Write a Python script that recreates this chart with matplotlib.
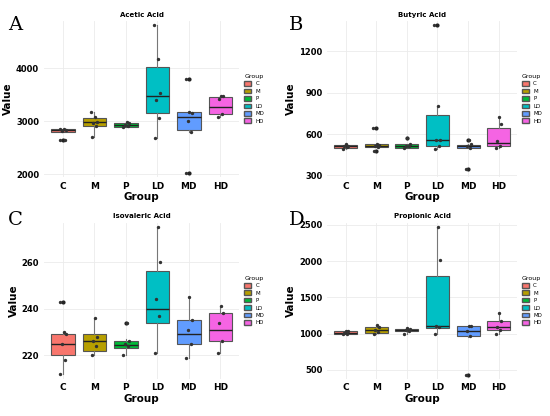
import matplotlib
matplotlib.use("Agg")
import matplotlib.pyplot as plt
from matplotlib.patches import Patch

groups = ["C", "M", "P", "LD", "MD", "HD"]
colors = ["#F8766D", "#B79F00", "#00BA38", "#00BFC4", "#619CFF", "#F564E3"]

# per group: (median, q1, q3, whisker_lo, whisker_hi, fliers)
acetic_stats = [(2830, 2800, 2850, 2800, 2860, [2640]), (2980, 2920, 3060, 2700, 3180, []),
                (2930, 2900, 2970, 2890, 2990, []), (3470, 3150, 4020, 2680, 4820, []),
                (3080, 2840, 3170, 2790, 3170, [3790, 2020]), (3270, 3130, 3450, 3090, 3470, [])]
acetic_pts = [[2640, 2640, 2820, 2840, 2850, 2860], [2700, 2920, 2960, 2980, 3080, 3180],
              [2890, 2910, 2930, 2960, 2990], [2680, 3060, 3400, 3540, 4170, 4820],
              [2020, 2790, 3000, 3160, 3170, 3790], [3090, 3130, 3420, 3470, 3480]]
butyric_stats = [(510, 500, 520, 490, 525, []), (515, 505, 525, 505, 525, [640, 475]),
                 (515, 500, 525, 500, 530, [570]), (560, 515, 740, 490, 800, [1390]),
                 (510, 500, 520, 500, 525, [560, 350]), (535, 510, 640, 500, 720, [])]
butyric_pts = [[490, 505, 510, 515, 525], [475, 505, 515, 520, 525, 640],
               [500, 510, 515, 525, 570], [490, 510, 555, 560, 800, 1390],
               [350, 500, 510, 525, 560], [500, 510, 550, 670, 720]]
isoval_stats = [(225, 220, 229, 212, 230, [243]), (226, 222, 229, 220, 236, []),
                (224.5, 223, 226, 220, 227, [234]), (240, 234, 256, 221, 275, []),
                (229, 225, 235, 219, 245, []), (231, 226, 238, 221, 241, [])]
isoval_pts = [[212, 218, 225, 229, 230, 243], [220, 224, 226, 228, 236],
              [220, 224, 225, 226, 234], [221, 237, 244, 260, 275],
              [219, 225, 231, 235, 245], [221, 226, 234, 238, 241]]
propi_stats = [(1010, 1000, 1030, 990, 1040, []), (1050, 1010, 1090, 990, 1120, []),
               (1050, 1040, 1060, 1000, 1080, []), (1100, 1080, 1790, 990, 2470, []),
               (1040, 960, 1100, 950, 1110, [430]), (1090, 1050, 1170, 1000, 1290, [])]
propi_pts = [[990, 1000, 1010, 1030, 1040], [990, 1020, 1050, 1090, 1120],
             [1000, 1040, 1050, 1060, 1080], [990, 1090, 1110, 2020, 2470],
             [430, 960, 1040, 1100, 1110], [1000, 1050, 1090, 1170, 1290]]

panels = [
    ("A", "Acetic Acid", acetic_stats, acetic_pts, (1950, 4900), [2000, 3000, 4000]),
    ("B", "Butyric Acid", butyric_stats, butyric_pts, (290, 1420), [300, 600, 900, 1200]),
    ("C", "Isovaleric Acid", isoval_stats, isoval_pts, (210, 277), [220, 240, 260]),
    ("D", "Propionic Acid", propi_stats, propi_pts, (380, 2530), [500, 1000, 1500, 2000, 2500]),
]
rects = [[0.08, 0.575, 0.355, 0.375], [0.595, 0.575, 0.345, 0.375],
         [0.08, 0.09, 0.355, 0.375], [0.595, 0.09, 0.345, 0.375]]
letter_pos = [(0.015, 0.94), (0.525, 0.94), (0.015, 0.47), (0.525, 0.47)]

fig = plt.figure(figsize=(5.5, 4.16), dpi=100)
for (letter, title, stats, pts, ylim, ticks), r, lp in zip(panels, rects, letter_pos):
    ax = fig.add_axes(r)
    bx = []
    for g, (med, q1, q3, wl, wh, fl) in zip(groups, stats):
        bx.append(dict(med=med, q1=q1, q3=q3, whislo=wl, whishi=wh, fliers=fl, label=g))
    res = ax.bxp(bx, positions=range(1, 7), widths=0.75, patch_artist=True,
                 boxprops=dict(edgecolor="#555555", linewidth=0.8),
                 medianprops=dict(color="#222222", linewidth=1.0),
                 whiskerprops=dict(color="#777777", linewidth=0.8),
                 capprops=dict(linewidth=0),
                 flierprops=dict(marker="o", markersize=2, markerfacecolor="#222222",
                                 markeredgecolor="#222222"))
    for b, c in zip(res["boxes"], colors):
        b.set_facecolor(c)
    offs = [-0.08, 0.06, -0.04, 0.09, 0.02, -0.1]
    for i, p in enumerate(pts):
        ax.scatter([i + 1 + offs[j % 6] for j in range(len(p))], p, s=2, color="#333333", zorder=3)
    ax.set_ylim(*ylim)
    ax.set_xlim(0.4, 6.6)
    ax.set_yticks(ticks)
    ax.set_xticks(range(1, 7))
    ax.set_xticklabels(groups, fontsize=6.5, fontweight="bold")
    ax.tick_params(axis="y", labelsize=6, length=0)
    ax.tick_params(axis="x", length=0)
    for lab in ax.get_yticklabels():
        lab.set_fontweight("bold")
    ax.grid(True, color="#ebebeb", linewidth=0.6)
    ax.set_axisbelow(True)
    for s in ax.spines.values():
        s.set_visible(False)
    ax.set_title(title, fontsize=5, fontweight="bold", pad=3)
    ax.set_xlabel("Group", fontsize=7.5, fontweight="bold", labelpad=1)
    ax.set_ylabel("Value", fontsize=7.5, fontweight="bold", labelpad=2)
    fig.text(lp[0], lp[1], letter, fontsize=14, family="DejaVu Serif", va="center")
    handles = [Patch(facecolor=c, edgecolor="#555555", label=g) for g, c in zip(groups, colors)]
    ax.legend(handles=handles, title="Group", loc="center left", bbox_to_anchor=(1.0, 0.5),
              frameon=False, fontsize=4, title_fontsize=4.5, handlelength=1.2, handleheight=0.9,
              labelspacing=0.4, alignment="left")

fig.savefig("out.png", dpi=100)
